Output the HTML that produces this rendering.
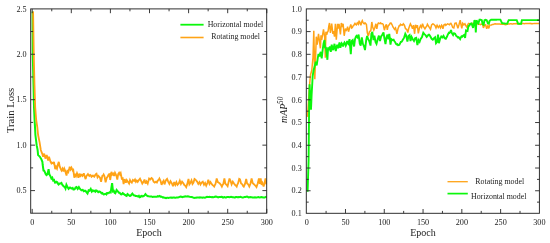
<!DOCTYPE html>
<html lang="en"><head><meta charset="utf-8"><title>Train Loss and mAP50 curves</title>
<style>html,body{margin:0;padding:0;background:#fff}svg{display:block}</style></head>
<body><svg width="550" height="243" viewBox="0 0 550 243">
<rect width="550" height="243" fill="#fff"/>
<defs><clipPath id="cl"><rect x="30.70" y="8.90" width="236.00" height="204.30"/></clipPath><clipPath id="cr"><rect x="306.30" y="8.90" width="233.10" height="204.40"/></clipPath></defs>
<g clip-path="url(#cl)"><polyline fill="none" stroke="#0bf70b" stroke-width="2.0" stroke-linejoin="miter" stroke-miterlimit="3" stroke-linecap="butt" points="32.6,11.4 32.8,56 33.5,85 34,107 34.6,120 35.1,129 35.4,135 36.05,140.2 36.7,145.4 37.6,150 38.1,155 39,155.9 39.9,156.8 40.6,157.95 41.3,159.1 42.4,161.8 42.7,165 43.5,170.5 44.25,170.82 45,172.3 45.75,174.12 46.5,175 47.5,174.1 48.6,169.1 49.3,174.1 50.5,176.4 51.4,178.6 52.3,177.7 53.2,180.5 54.1,180 55,182.7 55.7,182.58 56.4,181.8 57.3,182.3 57.95,183.64 58.6,184.5 59.3,183.73 60,183.5 60.7,183.4 61.4,183 62.05,184.3 62.7,185.3 63.4,186.06 64.1,186.6 64.8,187.07 65.5,188.5 66.4,184.8 67.5,187.1 68.6,188.9 69.3,188.1 70,187.5 70.7,187.85 71.4,188.5 72.05,188.56 72.7,188 73.4,189.39 74.1,189.4 74.8,189.08 75.5,187.5 76.5,187.1 77.7,188.9 78.9,187.1 80,188.9 80.7,189.66 81.4,190.3 82.05,189.97 82.7,189.8 83.8,191.2 85,190.7 85.7,191.08 86.4,192.1 87.5,193.5 88.6,190.3 89.5,190.7 90.7,188.9 91.8,191.6 92.9,190.3 94.1,191.2 94.8,190.75 95.5,191.6 96.15,190.49 96.8,190.7 97.5,191.35 98.2,192.1 98.85,191.6 99.5,191.6 100.2,191.88 100.9,192.5 101.6,193.3 102.3,193 102.95,193.74 103.6,194.4 104.3,194.23 105,193.9 105.7,193.78 106.4,194.4 107.05,193.03 107.7,193 108,193.2 108.7,192.71 109.4,192.7 110.05,191.99 110.7,192.3 111.4,187.76 112.1,183.2 113,191.4 113.9,190.9 114.6,192.75 115.3,193.2 115.95,191.84 116.6,190 117.8,191.4 118.9,192.7 119.6,192.7 120.3,193.6 120.95,194.4 121.6,194.5 122.7,193.2 123.9,194.1 124.6,194.82 125.3,195 125.95,195.66 126.6,195.9 127.5,194.1 128.7,195 129.8,195.9 130.5,195.82 131.2,195 132.4,193.6 133.5,195 134.15,195.49 134.8,195.5 135.5,195.96 136.2,195.9 136.85,196.02 137.5,196.4 138.2,196.58 138.9,195.9 139.8,197.3 140.5,197.02 141.2,195.9 141.85,195.85 142.5,196.4 143.2,196.38 143.9,195.9 144.7,195.19 145.5,194.1 146.6,195.5 147.3,195.82 148,196.2 148.9,196.33 149.8,196.4 150.7,196.39 151.6,196.4 152.55,196.98 153.5,196.8 154.4,196.8 155.3,196.8 156,196.7 156.9,196.82 157.8,196.22 158.7,196.52 159.6,196 160.34,196.6 161.08,196.44 161.82,196.78 162.56,197.34 163.3,197.2 164.2,197.7 165.1,197.79 166,198.1 166.9,197.72 167.8,197.69 168.7,197.9 169.6,197.6 170.37,197.47 171.13,197.76 171.9,197.51 172.67,197.76 173.43,197.52 174.2,197.6 174.92,197.78 175.64,197.68 176.36,197.6 177.08,197.61 177.8,197.6 178.7,197.29 179.6,196.9 180.5,196.5 181.45,196.77 182.4,197.2 183.3,196.82 184.2,196.67 185.1,196.4 186,196.6 186.9,196.5 187.8,196.31 188.7,196.5 189.44,196.77 190.18,196.87 190.92,197.08 191.66,196.94 192.4,197.2 193.3,197.7 194.2,198 195.1,197.66 196,197.73 196.9,197.5 197.67,197.43 198.43,197.42 199.2,197.7 199.97,197.41 200.73,197.59 201.5,197.6 202.3,197.72 203.1,197.46 203.9,197.42 204.7,197.67 205.5,197.5 206.25,197.12 207,196.8 207.8,197.04 208.6,197.1 209.4,196.86 210.2,197 211,197.04 211.8,197.2 212.6,197.07 213.4,197.2 214.2,197.02 215,196.7 215.8,196.48 216.6,196.6 217.4,197.18 218.2,197.4 219,196.96 219.8,196.9 220.6,196.94 221.4,196.8 222.2,197.01 223,197.6 223.8,197.25 224.6,197.1 225.4,197.38 226.2,197.4 227,197.11 227.8,197.1 228.6,197.02 229.4,197.2 230.2,197.08 231,196.8 231.8,196.95 232.6,197.2 233.4,197.17 234.2,197.5 235,197.5 235.8,197.1 236.6,197.06 237.4,197.3 238.2,197.11 239,197.3 239.8,196.94 240.6,196.7 241.4,197.1 242.2,197.4 243,197.4 243.8,197.2 244.6,196.9 245.4,196.9 246.2,196.68 247,196.6 247.8,196.86 248.6,197.5 249.4,197.28 250.2,197.1 251,197.31 251.8,197.3 252.6,197.5 253.4,197.5 254.2,197.56 255,197.3 255.8,197.5 256.6,197.5 257.4,197.39 258.2,197 259,197.28 259.8,197.4 260.6,197.19 261.4,197 262.2,197.14 263,197.5 263.8,197.56 264.6,197.5 265.4,197.03 266.2,196.7 267.3,197.1"/><polyline fill="none" stroke="#ffa316" stroke-width="1.8" stroke-linejoin="miter" stroke-miterlimit="3" stroke-linecap="butt" points="33.1,11.4 33.8,56 34.5,85 35.2,107 36.2,120 37.3,127 38.1,135 38.85,138.7 39.6,142.4 40.8,150 41.5,151.8 42.2,153.6 43.1,156.8 44.2,153.6 45.4,158.6 46.05,157.06 46.7,155 47.4,157.51 48.1,160.5 49,156.8 49.7,159.1 50.4,161.4 51.4,163.4 52,162.7 52.7,163.1 53.4,163.6 54,161.8 55.2,169.1 56.1,166.8 57,168.6 57.9,164.5 58.8,161.8 59.7,166.4 60.6,168.6 61.5,170.5 62.5,168.6 63.4,171.4 64.3,168.6 65.2,170.9 65.85,173.35 66.5,175.5 67.5,170 68.4,171.8 69.05,169.59 69.7,166.8 70.6,169.5 71.5,167.7 72.5,170 73.1,168.6 74.3,177.7 75.2,173.6 76.1,175.9 77,173.2 77.7,175.04 78.4,177.7 79.3,173.6 80.2,176.8 81.1,174.5 81.8,174.73 82.5,175.9 83.15,174.89 83.8,173.2 84.7,176.4 85.6,179.1 86.5,175.9 87.2,174.93 87.9,174.1 88.6,175.26 89.3,175.9 90.2,175 90.85,175.4 91.5,176.8 92.2,176.1 92.9,175.5 93.6,176.37 94.3,176.8 95.2,175 95.85,174.03 96.5,173.6 97.5,177.3 98.4,175.9 99.3,176.8 100,177.7 101.1,181.8 102.3,175.9 102.95,175.65 103.6,174.5 104.5,176.4 105.6,182.3 106.8,177.7 107.5,177 108.2,175.5 108.85,174.33 109.5,174.1 110.2,180 111.4,171.8 112.3,174.5 113.2,173.6 114.1,175.9 115,172.7 115.9,174.5 116.6,176.53 117.3,179.5 118.2,174.1 119.1,172.7 120,174.5 120.7,173.2 121.8,178.6 122.7,178.2 123.6,184.1 124.7,179.1 125.9,182.7 126.8,180 127.7,181.4 128.4,182.54 129.1,183.6 130,180 130.9,181.8 131.8,182.7 132.9,180 134.1,180.9 135,179.5 135.9,181.8 136.8,180.5 137.7,181.8 138.9,180 140,178.6 141.1,180.9 142.3,183.6 143.5,181.8 144.5,179.5 145.5,183.6 146.5,181.4 147.7,183.6 148,182.5 149.1,178.5 150.3,179.4 151.5,178 152.5,178.9 153.6,181.6 154.8,182.5 156,181.6 156.9,182.5 158,180.3 158.7,179.84 159.4,178.5 160.5,180.7 161.6,184.8 162.5,182.5 163.6,180.7 164.5,184.4 165.7,180.7 166.4,179.68 167.1,178.9 168.2,181.6 169.4,183.9 170.5,181.2 171.6,183 172.3,184.32 173,186.2 174.2,182.1 175.3,184.8 176.4,182.1 177.5,184.8 178.7,183.5 179.8,180.7 180.9,183.9 182.1,181.6 182.8,182.47 183.5,183.5 184.5,185.3 185.35,185.73 186.2,187.1 187.3,183.9 188.5,178.9 189.4,184.4 190.3,183 191.5,180.3 192.5,183.9 193.5,182.5 194.5,178.9 195.7,179.8 196,180.3 197.1,181.6 198.3,183.9 199.5,182.1 200.5,184.4 201.6,182.5 202.8,181.6 204,184.8 205.1,183 206.2,185.7 207.4,183 208.3,179.8 209.5,183.9 210.5,182.1 211.6,183.9 212.8,185.3 213.5,185.67 214.2,186.6 214.85,185.19 215.5,183.9 216.7,178.5 217.8,182.1 218.5,182.55 219.2,183 219.85,183.43 220.5,184.4 221.2,185.23 221.9,186.6 222.6,184.97 223.3,183.9 224.4,178.5 225.3,183.5 226.5,184.8 227.6,186.2 228.5,182.5 229.5,178.5 230.5,180.7 231.6,184.4 232.8,181.6 234,183.5 234.65,184.36 235.3,185.3 236,185.74 236.7,186.6 237.35,184.57 238,183.5 239.2,178.9 240,179.4 241.1,183.5 242.3,184.4 243.05,185.84 243.8,186.6 245,183.9 246.2,178.9 247.1,183.5 248.2,184.4 249.3,186.6 250.5,183.5 251.6,178.5 252.7,183 253.4,183.76 254.1,184.4 254.8,185.19 255.5,185.7 256.5,187.1 257.7,183.5 258.9,178.5 259.8,183.9 260.7,178.5 261.6,184.8 262.5,183 263.6,186.6 264.5,183.5 265.5,178.5 266.4,183.5 267.3,183.5"/></g>
<g clip-path="url(#cr)"><polyline fill="none" stroke="#ffa316" stroke-width="1.5" stroke-linejoin="miter" stroke-miterlimit="3" stroke-linecap="butt" points="307.5,116.9 308.2,106.3 308.85,96.05 309.5,85.8 310.5,74.8 311.15,72.55 311.8,70.3 313,57.3 313.4,44.3 313.8,30.8 314.8,79.3 315.55,58 316.3,36.7 317.2,44.7 317.85,39.49 318.5,33.9 319.5,41.3 320.4,48.3 321,35.3 321.7,39.8 322.6,34.83 323.5,29.4 324.7,37.1 325.3,57.8 325.9,31.7 326.7,34.8 327.4,32.22 328.1,31.2 328.8,26.22 329.5,23 330.4,33 331.05,28.86 331.7,23.5 332.9,33.9 333.5,31.2 334.5,36.7 335.4,23.9 336.3,39.8 336.95,31.42 337.6,23.9 338.4,28.5 339,23.9 339.7,28.67 340.4,34.4 341.3,23 342.2,25.8 343.1,23.9 344.2,35.8 345.4,28.5 346.3,30.3 346.95,29.39 347.6,26.7 348.5,31.7 349.2,29.35 349.9,27.1 350.8,24.4 351.7,28 352.4,27.51 353.1,25.8 353.6,25.7 354.3,24.51 355,23.4 355.7,24.35 356.4,24.8 357.3,22.9 358.4,24.3 359.1,20.7 360.2,23.4 360.9,25.2 361.6,22.32 362.3,20.7 362.95,22.29 363.6,23.4 364.3,23.81 365,22.9 365.7,23.64 366.4,24.3 367.3,32.5 368.2,36.1 368.85,34.28 369.5,31.6 370.2,31.21 370.9,30.2 371.8,22 372.7,27 373.8,30.2 374.7,27.9 375.9,23.8 376.8,28.8 377.7,24.3 378.4,23.07 379.1,23.4 379.8,23.61 380.5,22.9 381.15,23.51 381.8,23.8 382.5,23.69 383.2,24.3 384.4,30.2 385.5,26.1 386.4,24.3 387.3,29.8 387.95,26.66 388.6,25.2 389.3,24.96 390,23.4 390.9,22.9 391.6,24 392.3,25.2 392.95,26.94 393.6,27.9 394.5,29.3 395.5,27.9 396,29.8 396.9,33.8 398,28.8 399.2,25.7 399.85,25.68 400.5,24.3 401.2,24.94 401.9,24.8 402.6,25.06 403.3,23.8 404.4,25.2 405.5,28.8 406.7,29.3 407.8,32.5 408.9,27.9 409.65,25.66 410.4,23.8 411.5,26.1 412.5,28.8 413.5,25.2 414.6,33.8 415.5,24.8 416.5,27.9 417.4,25.2 418.3,33.4 419.5,27.9 420.5,25.7 421.6,27.5 422.5,23.8 423.7,27 424.9,28.8 426,27 426.7,26.19 427.4,24.3 428.5,26.1 429.6,27.9 430.5,29.3 431.6,24.8 432.8,23.8 433.5,24.2 434.2,24.8 435.1,25.7 436,27.9 437.1,25.2 438.3,27.5 439.5,25.7 440.5,27.9 441.6,25.2 442,25.7 442.9,28.8 444,24.8 445.2,24.3 445.85,25.33 446.5,24.8 447.6,23.8 448.8,24.3 449.5,24.73 450.2,23.8 450.85,23.33 451.5,24.3 452.7,27.5 453.8,27.9 454.9,23.4 456.1,22.9 457,25.2 457.9,28.4 459.1,24.3 460.2,20.2 461.1,25.2 461.8,28.4 462.7,23.4 463.8,24.8 464.9,23.8 466.1,26.1 467,27.5 467.9,24.3 468.6,23.39 469.3,23.8 469.95,23.54 470.6,24.3 471.3,24.32 472,23.4 472.7,23.54 473.4,23.8 474.22,23.99 475.04,23.72 475.86,23.99 476.68,23.93 477.5,24.1 478.22,23.99 478.94,24.27 479.66,24.3 480.38,24.66 481.1,24.3 481.8,24.23 482.5,23.8 483.4,27.9 484.5,25.2 485.6,24.8 486.7,28.8 487.9,25.7 488.8,28.4 489.7,25.2 490.53,25.13 491.37,24.91 492.2,24.6 492.95,24.55 493.7,24.25 494.45,23.9 495.2,23.8 496.01,23.95 496.82,24.03 497.63,24.06 498.44,24 499.25,24.09 500.05,23.99 500.86,24.22 501.67,24.19 502.48,24.14 503.29,24.12 504.1,24.3 504.85,24.61 505.6,24.7 506.3,24.5 507,24 507.82,23.85 508.64,24.05 509.47,23.91 510.29,23.81 511.11,23.83 511.93,23.95 512.76,23.96 513.58,23.69 514.4,23.8 515.23,23.82 516.07,23.64 516.9,23.83 517.73,23.7 518.57,23.86 519.4,23.88 520.23,23.72 521.07,23.86 521.9,23.7 522.72,23.62 523.54,23.53 524.37,23.66 525.19,23.47 526.01,23.5 526.83,23.54 527.66,23.58 528.48,23.42 529.3,23.5 530.13,23.36 530.97,23.61 531.8,23.44 532.63,23.64 533.47,23.62 534.3,23.46 535.13,23.49 535.97,23.51 536.8,23.54 537.63,23.53 538.47,23.52 539.3,23.5"/><polyline fill="none" stroke="#0bf70b" stroke-width="1.9" stroke-linejoin="miter" stroke-miterlimit="3" stroke-linecap="butt" points="307.6,191.8 308.6,160.3 308.9,130.3 309.2,100.3 309.6,84.3 310.3,97.05 311,109.8 311.6,95.3 312.7,75.8 313.6,70.3 314.33,67.47 315.07,64.63 315.8,61.8 316.7,65.4 317.8,57.8 318.5,53.8 319.4,56.5 320.1,53.65 320.8,51.9 321.7,58.3 322.6,50.36 323.5,43.8 324.5,40.1 325.1,48.3 325.8,46.9 326.6,53.19 327.4,59.8 328.1,47.4 329,50.1 329.9,46.5 330.8,51.9 331.7,44.7 332.4,48.07 333.1,50.1 333.8,47.43 334.5,43.8 335.15,47.82 335.8,51 336.5,47.41 337.2,44.7 338.1,48.3 338.8,45.41 339.5,42.4 340.4,47.8 341.05,45.19 341.7,43.3 342.4,44.38 343.1,46.5 343.8,43.82 344.5,42.4 345.15,43.54 345.8,45.6 346.5,43.98 347.2,41 347.85,42.93 348.5,43.8 349.5,39.2 350.15,47.19 350.8,54.2 351.7,41 352.7,40.1 353.4,43.78 354.1,46.5 355,39.2 355.7,37.11 356.4,36 357.5,37.4 358.6,34.7 359.8,43.8 360.7,45.6 361.8,37.4 362.9,43.8 364.1,46.5 365,50.1 366.2,40.1 367.1,36 368.2,39.2 368.85,40.25 369.5,41.9 370.5,45.6 371.4,33.8 372.3,31.9 373.5,40.1 374.4,35.6 375.5,41.9 376.5,43.8 377.7,39.2 378.9,35.6 380,41 381.1,36.5 382.3,34.7 383.5,32.4 384.4,38.3 385.5,44.2 386.4,37.4 387.5,34.7 388.4,39.2 389.3,33.8 390.5,44.7 391.4,39.2 392.5,40.1 393.6,39.7 394.3,41 395,41.9 396,43.8 396.7,44.37 397.4,44.2 398.05,45.22 398.7,45.1 399.4,44.81 400.1,43.3 400.8,41.94 401.5,41.9 402.15,40.97 402.8,39.7 403.5,38.82 404.2,37.4 405.3,33.8 406.2,35.6 407.4,41.5 408.5,36 409.6,35.1 410.5,41 411.6,36.9 412.8,39.2 414,41 415.1,38.3 416.2,37.8 417.4,45.1 418.5,40.1 419.6,41.9 420.7,38.8 421.9,37.4 422.6,35.11 423.3,32.8 424.4,34.2 425.5,35.1 426.7,36.9 427.8,35.6 428.5,34.63 429.2,34.7 430.4,36.5 431.6,38.8 432.8,39.7 434,38.3 435.1,37.4 436,43.2 437.1,41.8 438,34.6 438.9,43.2 440.1,38.7 441.3,36.4 442.4,37.3 443.5,35.9 444.6,38.2 445.8,38.7 446.9,36.8 447.6,35.21 448.3,33.7 448.95,32.59 449.6,32.8 450.3,32.1 451,30 451.9,33.2 453.1,35 454,33.2 455.1,33.7 456.2,35.9 457.4,36.8 458.05,37.63 458.7,37.3 459.4,38.28 460.1,39.1 460.8,37.43 461.5,36.4 462.15,36.8 462.8,35.9 464,35 465.1,37.8 466,30.5 466.75,30.92 467.5,31.1 468.4,26.1 469.3,25.7 470.4,23.8 471.5,23.4 472.5,26.1 473.1,27.9 473.8,24.3 474.5,20.2 475.2,21.6 475.8,32.5 476.5,20.2 477.5,22.5 478.4,23.4 479.5,19.8 480.6,19.8 481.8,20.2 482.7,24.3 483.6,24.8 484.5,20.2 485.6,19.8 486.7,20.2 487.9,23.4 488.8,23.8 489.7,20.7 490.4,20.25 491.1,19.8 491.88,19.78 492.65,19.77 493.43,19.75 494.2,19.73 494.98,19.72 495.75,19.7 496.52,19.68 497.3,19.67 498.07,19.65 498.85,19.63 499.62,19.62 500.4,19.6 501.2,21.35 502,23.1 502.87,23.22 503.73,23.33 504.6,23.45 505.47,23.57 506.33,23.68 507.2,23.8 507.95,21.95 508.7,20.1 509.5,20.1 510.3,20.1 511.1,20.1 511.9,20.1 512.7,20.1 513.5,20.1 514.3,20.1 515.1,20.1 515.9,20.1 516.7,20.1 517.4,21.95 518.1,23.8 518.85,23.8 519.6,23.8 520.35,23.8 521.1,23.8 521.9,20.1 522.69,20.1 523.48,20.1 524.27,20.1 525.06,20.1 525.85,20.1 526.65,20.1 527.44,20.1 528.23,20.1 529.02,20.1 529.81,20.1 530.6,20.1 531.39,20.1 532.18,20.1 532.97,20.1 533.76,20.1 534.55,20.1 535.35,20.1 536.14,20.1 536.93,20.1 537.72,20.1 538.51,20.1 539.3,20.1"/></g>
<rect x="30.70" y="8.90" width="236.00" height="204.30" fill="none" stroke="#262626" stroke-width="0.95"/>
<rect x="306.30" y="8.90" width="233.10" height="204.40" fill="none" stroke="#262626" stroke-width="0.95"/>
<path d="M32.20 213.20v-4.30M32.20 8.90v4.30M71.30 213.20v-4.30M71.30 8.90v4.30M110.40 213.20v-4.30M110.40 8.90v4.30M149.50 213.20v-4.30M149.50 8.90v4.30M188.60 213.20v-4.30M188.60 8.90v4.30M227.70 213.20v-4.30M227.70 8.90v4.30M266.80 213.20v-4.30M266.80 8.90v4.30M51.75 213.20v-2.40M51.75 8.90v2.40M90.85 213.20v-2.40M90.85 8.90v2.40M129.95 213.20v-2.40M129.95 8.90v2.40M169.05 213.20v-2.40M169.05 8.90v2.40M208.15 213.20v-2.40M208.15 8.90v2.40M247.25 213.20v-2.40M247.25 8.90v2.40M30.70 190.60h4.30M266.70 190.60h-4.30M30.70 145.15h4.30M266.70 145.15h-4.30M30.70 99.70h4.30M266.70 99.70h-4.30M30.70 54.25h4.30M266.70 54.25h-4.30M30.70 167.88h2.40M266.70 167.88h-2.40M30.70 122.42h2.40M266.70 122.42h-2.40M30.70 76.97h2.40M266.70 76.97h-2.40M30.70 31.52h2.40M266.70 31.52h-2.40" stroke="#262626" stroke-width="0.9" fill="none"/>
<path d="M345.49 213.30v-4.30M345.49 8.90v4.30M384.27 213.30v-4.30M384.27 8.90v4.30M423.05 213.30v-4.30M423.05 8.90v4.30M461.84 213.30v-4.30M461.84 8.90v4.30M500.62 213.30v-4.30M500.62 8.90v4.30M326.09 213.30v-2.40M326.09 8.90v2.40M364.88 213.30v-2.40M364.88 8.90v2.40M403.66 213.30v-2.40M403.66 8.90v2.40M442.45 213.30v-2.40M442.45 8.90v2.40M481.23 213.30v-2.40M481.23 8.90v2.40M520.02 213.30v-2.40M520.02 8.90v2.40M306.30 190.76h4.30M539.40 190.76h-4.30M306.30 168.02h4.30M539.40 168.02h-4.30M306.30 145.28h4.30M539.40 145.28h-4.30M306.30 122.54h4.30M539.40 122.54h-4.30M306.30 99.80h4.30M539.40 99.80h-4.30M306.30 77.06h4.30M539.40 77.06h-4.30M306.30 54.32h4.30M539.40 54.32h-4.30M306.30 31.58h4.30M539.40 31.58h-4.30M306.30 202.13h2.40M539.40 202.13h-2.40M306.30 179.39h2.40M539.40 179.39h-2.40M306.30 156.65h2.40M539.40 156.65h-2.40M306.30 133.91h2.40M539.40 133.91h-2.40M306.30 111.17h2.40M539.40 111.17h-2.40M306.30 88.43h2.40M539.40 88.43h-2.40M306.30 65.69h2.40M539.40 65.69h-2.40M306.30 42.95h2.40M539.40 42.95h-2.40M306.30 20.21h2.40M539.40 20.21h-2.40" stroke="#262626" stroke-width="0.9" fill="none"/>
<g font-family="'Liberation Serif', 'DejaVu Serif', serif" fill="#1c1c1c"><text transform="translate(32.20,224.80) scale(0.93,1)" text-anchor="middle" font-size="8.8">0</text><text transform="translate(306.70,224.90) scale(0.93,1)" text-anchor="middle" font-size="8.8">0</text><text transform="translate(71.30,224.80) scale(0.93,1)" text-anchor="middle" font-size="8.8">50</text><text transform="translate(345.49,224.90) scale(0.93,1)" text-anchor="middle" font-size="8.8">50</text><text transform="translate(110.40,224.80) scale(0.93,1)" text-anchor="middle" font-size="8.8">100</text><text transform="translate(384.27,224.90) scale(0.93,1)" text-anchor="middle" font-size="8.8">100</text><text transform="translate(149.50,224.80) scale(0.93,1)" text-anchor="middle" font-size="8.8">150</text><text transform="translate(423.05,224.90) scale(0.93,1)" text-anchor="middle" font-size="8.8">150</text><text transform="translate(188.60,224.80) scale(0.93,1)" text-anchor="middle" font-size="8.8">200</text><text transform="translate(461.84,224.90) scale(0.93,1)" text-anchor="middle" font-size="8.8">200</text><text transform="translate(227.70,224.80) scale(0.93,1)" text-anchor="middle" font-size="8.8">250</text><text transform="translate(500.62,224.90) scale(0.93,1)" text-anchor="middle" font-size="8.8">250</text><text transform="translate(266.80,224.80) scale(0.93,1)" text-anchor="middle" font-size="8.8">300</text><text transform="translate(539.41,224.90) scale(0.93,1)" text-anchor="middle" font-size="8.8">300</text><text transform="translate(26.70,193.30) scale(0.93,1)" text-anchor="end" font-size="8.8">0.5</text><text transform="translate(26.70,147.85) scale(0.93,1)" text-anchor="end" font-size="8.8">1.0</text><text transform="translate(26.70,102.40) scale(0.93,1)" text-anchor="end" font-size="8.8">1.5</text><text transform="translate(26.70,56.95) scale(0.93,1)" text-anchor="end" font-size="8.8">2.0</text><text transform="translate(26.70,11.50) scale(0.93,1)" text-anchor="end" font-size="8.8">2.5</text><text transform="translate(301.80,216.20) scale(0.93,1)" text-anchor="end" font-size="8.8">0.1</text><text transform="translate(301.80,193.46) scale(0.93,1)" text-anchor="end" font-size="8.8">0.2</text><text transform="translate(301.80,170.72) scale(0.93,1)" text-anchor="end" font-size="8.8">0.3</text><text transform="translate(301.80,147.98) scale(0.93,1)" text-anchor="end" font-size="8.8">0.4</text><text transform="translate(301.80,125.24) scale(0.93,1)" text-anchor="end" font-size="8.8">0.5</text><text transform="translate(301.80,102.50) scale(0.93,1)" text-anchor="end" font-size="8.8">0.6</text><text transform="translate(301.80,79.76) scale(0.93,1)" text-anchor="end" font-size="8.8">0.7</text><text transform="translate(301.80,57.02) scale(0.93,1)" text-anchor="end" font-size="8.8">0.8</text><text transform="translate(301.80,34.28) scale(0.93,1)" text-anchor="end" font-size="8.8">0.9</text><text transform="translate(301.80,11.54) scale(0.93,1)" text-anchor="end" font-size="8.8">1.0</text><text x="148.9" y="236" text-anchor="middle" font-size="10">Epoch</text><text x="422.9" y="236" text-anchor="middle" font-size="10">Epoch</text><text transform="translate(13.6,110.4) rotate(-90)" text-anchor="middle" font-size="10.6">Train Loss</text><text transform="translate(287,109.8) rotate(-90)" text-anchor="middle" font-size="9.8" font-style="italic">mAP<tspan font-size="7.2" dy="-4.4">50</tspan></text><path d="M180.4 24.7H203.6" stroke="#0bf70b" stroke-width="1.8"/><path d="M180.4 37.5H203.6" stroke="#ffa316" stroke-width="1.6"/><text x="235.4" y="26.9" text-anchor="middle" font-size="7.9">Horizontal model</text><text x="235.6" y="38.9" text-anchor="middle" font-size="7.9">Rotating model</text><path d="M447.5 181.7H467.8" stroke="#ffa316" stroke-width="1.3"/><path d="M447.5 193.6H467.8" stroke="#0bf70b" stroke-width="1.7"/><text x="499.7" y="183.6" text-anchor="middle" font-size="7.9">Rotating model</text><text x="498.7" y="198.6" text-anchor="middle" font-size="7.9">Horizontal model</text></g>
</svg></body></html>
